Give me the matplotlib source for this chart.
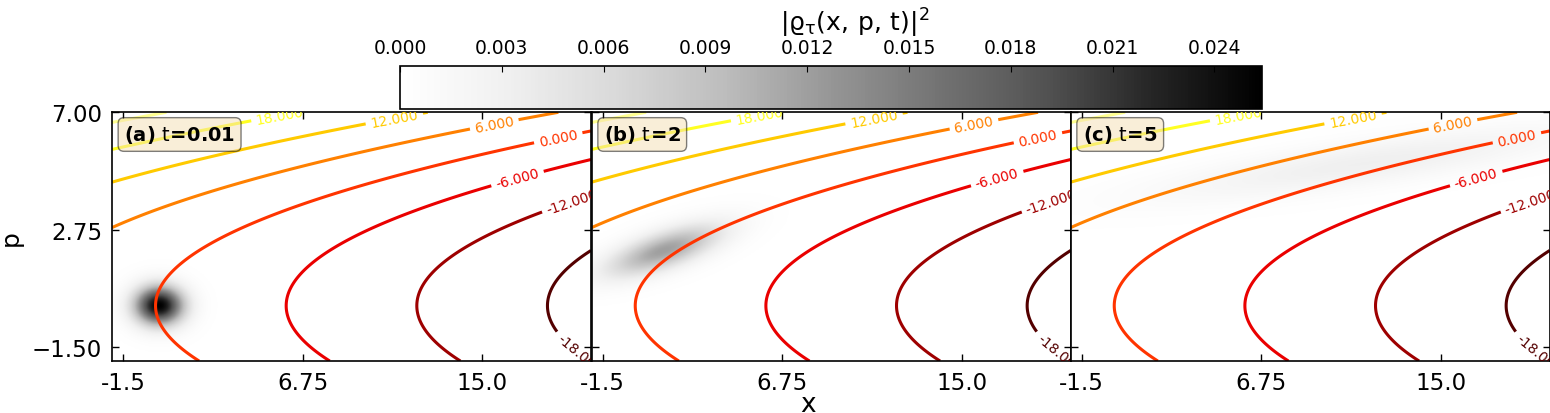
import numpy as np
import matplotlib
matplotlib.use("Agg")
import matplotlib.pyplot as plt
from matplotlib.ticker import FuncFormatter

# ---------------- data ----------------
panel_tags = ["(a)", "(b)", "(c)"]
panel_times = ["0.01", "2", "5"]

# Gaussian-like density blobs: centre, spreads along major/minor axis, tilt, peak
blob_x = [0.15, 1.3, 11.5]
blob_p = [0.0, 2.0, 5.15]
blob_sig_major = [0.8, 1.9, 6.5]
blob_sig_minor = [0.5, 0.47, 0.55]
blob_slope = [0.0, 0.26, 0.11]
blob_peak = [0.0254, 0.012, 0.0032]

contour_levels = [-24, -18, -12, -6, 0, 6, 12, 18, 24, 30]
x_limits = [-2.0, 20.0]
p_limits = [-2.0, 7.0]
x_ticks = [-1.5, 6.75, 15.0]
p_ticks = [-1.5, 2.75, 7.0]
cbar_ticks = [0.000, 0.003, 0.006, 0.009, 0.012, 0.015, 0.018, 0.021, 0.024]
cbar_max = 0.0254

# ---------------- figure ----------------
plt.rcParams["font.family"] = ["DejaVu Sans"]
plt.rcParams["mathtext.default"] = "regular"
fig = plt.figure(figsize=(15.5, 4.14), dpi=100)

W, H = 1550.0, 414.0
ax_w = 479.0 / W
ax_b = (H - 362.0) / H
ax_h = (362.0 - 113.3) / H
lefts = [112.0 / W, 591.7 / W, 1070.7 / W]

x = np.linspace(x_limits[0], x_limits[1], 600)
p = np.linspace(p_limits[0], p_limits[1], 400)
X, P = np.meshgrid(x, p)
Hfield = P ** 2 / 2.0 - X

yfmt = FuncFormatter(lambda v, pos: ("%.2f" % v).replace("-", "\u2212"))

axes = []
im = None
for i in range(3):
    ax = fig.add_axes([lefts[i], ax_b, ax_w, ax_h])
    axes.append(ax)
    s = blob_slope[i]
    n = np.hypot(1.0, s)
    dx = X - blob_x[i]
    dp = P - blob_p[i]
    a = (dx + s * dp) / n
    b = (-s * dx + dp) / n
    dens = blob_peak[i] * np.exp(-a ** 2 / (2 * blob_sig_major[i] ** 2)
                                 - b ** 2 / (2 * blob_sig_minor[i] ** 2))
    im = ax.imshow(dens, origin="lower", aspect="auto", cmap="Greys",
                   vmin=0.0, vmax=cbar_max,
                   extent=[x_limits[0], x_limits[1], p_limits[0], p_limits[1]],
                   interpolation="bilinear")
    cs = ax.contour(X, P, Hfield, levels=contour_levels, cmap="hot",
                    linewidths=2.2)
    labels = ax.clabel(cs, fmt="%.3f", fontsize=10, inline=True)
    for t in labels:
        t.set_clip_on(True)
    ax.set_xlim(x_limits)
    ax.set_ylim(p_limits)
    ax.set_xticks(x_ticks)
    ax.set_xticklabels([str(v) for v in x_ticks])
    ax.set_yticks(p_ticks)
    ax.yaxis.set_major_formatter(yfmt)
    ax.tick_params(direction="in", top=True, right=True, length=5, width=1,
                   labelsize=16.5, pad=7)
    if i > 0:
        ax.tick_params(labelleft=False)
    for sp in ax.spines.values():
        sp.set_linewidth(1.2)
    ax.text(0.025, 0.955,
            r"$\mathbf{%s}$ t$\mathbf{\!=\!%s}$" % (panel_tags[i], panel_times[i]),
            transform=ax.transAxes, fontsize=14, va="top", ha="left",
            bbox=dict(boxstyle="round", facecolor="wheat", alpha=0.5))

axes[0].set_ylabel("p", fontsize=18, labelpad=7)
fig.text(807.7 / W, 2.0 / H, "x", fontsize=19, ha="center", va="baseline")

cax = fig.add_axes([400.0 / W, (H - 110.0) / H, 862.0 / W, 43.3 / H])
cb = fig.colorbar(im, cax=cax, orientation="horizontal", ticks=cbar_ticks,
                  format="%.3f")
cax.xaxis.set_ticks_position("top")
cax.xaxis.set_label_position("top")
cax.tick_params(direction="in", length=4, labelsize=13.5, pad=6)
cb.set_label(r"$|\varrho_\tau(x,\,p,\,t)|^2$", fontsize=18)
cax.xaxis.set_label_coords(0.528, 1.8)
cb.outline.set_linewidth(1.2)

fig.savefig("out.png", dpi=100)
